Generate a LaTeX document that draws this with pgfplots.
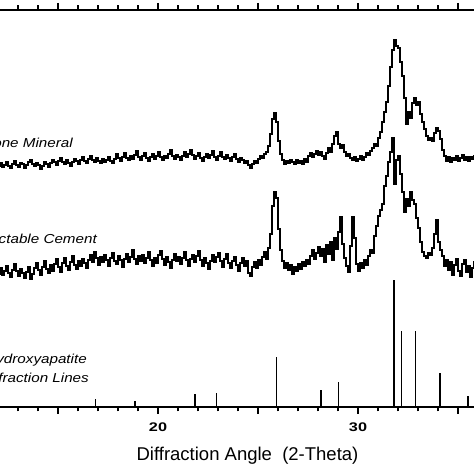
\documentclass[border=0pt]{standalone}
\usepackage{fontspec}
\setmainfont{Liberation Sans}
\usepackage{graphicx}
\usepackage{pgfplots}
\usepackage{pgfplotstable}
\pgfplotsset{compat=1.18}

\pgfplotstableread{
x y
12.0 308
12.1 311
12.2 307
12.3 309
12.4 312
12.5 308
12.6 306
12.7 310
12.8 313
12.9 309
13.0 307
13.1 311
13.2 310
13.3 306
13.4 309
13.5 312
13.6 314
13.7 310
13.8 308
13.9 311
14.0 309
14.1 305
14.2 308
14.3 312
14.4 310
14.5 307
14.6 311
14.7 314
14.8 312
14.9 309
15.0 313
15.1 316
15.2 312
15.3 310
15.4 314
15.5 311
15.6 308
15.7 312
15.8 315
15.9 313
16.0 310
16.1 314
16.2 317
16.3 313
16.4 311
16.5 315
16.6 318
16.7 314
16.8 312
16.9 316
17.0 313
17.1 311
17.2 315
17.3 312
17.4 314
17.5 317
17.6 313
17.7 311
17.8 315
17.9 320
18.0 316
18.1 313
18.2 317
18.3 321
18.4 316
18.5 314
18.6 318
18.7 315
18.8 319
18.9 323
19.0 317
19.1 314
19.2 318
19.3 321
19.4 316
19.5 313
19.6 317
19.7 320
19.8 315
19.9 318
20.0 322
20.1 317
20.2 314
20.3 318
20.4 316
20.5 320
20.6 324
20.7 318
20.8 315
20.9 319
21.0 317
21.1 314
21.2 318
21.3 322
21.4 317
21.5 320
21.6 324
21.7 319
21.8 315
21.9 318
22.0 321
22.1 316
22.2 313
22.3 317
22.4 320
22.5 316
22.6 319
22.7 323
22.8 317
22.9 314
23.0 318
23.1 322
23.2 317
23.3 315
23.4 319
23.5 316
23.6 313
23.7 317
23.8 320
23.9 315
24.0 312
24.1 316
24.2 314
24.3 311
24.4 313
24.5 309
24.6 306
24.7 310
24.8 313
24.9 311
25.0 315
25.1 318
25.2 316
25.3 320
25.4 322
25.5 328
25.6 340
25.7 355
25.8 361
25.9 352
26.0 333
26.1 320
26.2 314
26.3 310
26.4 313
26.5 311
26.6 314
26.7 312
26.8 310
26.9 314
27.0 311
27.1 313
27.2 310
27.3 315
27.4 312
27.5 318
27.6 321
27.7 317
27.8 320
27.9 323
28.0 319
28.1 322
28.2 318
28.3 315
28.4 321
28.5 326
28.6 322
28.7 330
28.8 338
28.9 342
29.0 330
29.1 326
29.2 329
29.3 322
29.4 318
29.5 320
29.6 316
29.7 314
29.8 317
29.9 313
30.0 315
30.1 318
30.2 314
30.3 317
30.4 321
30.5 319
30.6 323
30.7 326
30.8 330
30.9 328
31.0 336
31.1 342
31.2 352
31.3 362
31.4 372
31.5 388
31.6 407
31.7 424
31.8 434
31.9 428
32.0 426
32.1 412
32.2 398
32.3 376
32.4 350
32.5 362
32.6 356
32.7 371
32.8 376
32.9 369
33.0 372
33.1 360
33.2 352
33.3 345
33.4 338
33.5 334
33.6 336
33.7 333
33.8 341
33.9 346
34.0 343
34.1 335
34.2 324
34.3 318
34.4 313
34.5 317
34.6 312
34.7 316
34.8 314
34.9 318
35.0 313
35.1 316
35.2 319
35.3 314
35.4 317
35.5 313
35.6 317
35.7 315
35.8 318
35.9 314
36.0 316
}\bone

\pgfplotstableread{
x y
12.0 200
12.1 206
12.2 199
12.3 203
12.4 208
12.5 201
12.6 197
12.7 204
12.8 210
12.9 203
13.0 198
13.1 205
13.2 201
13.3 196
13.4 202
13.5 207
13.6 195
13.7 200
13.8 206
13.9 211
14.0 204
14.1 199
14.2 207
14.3 213
14.4 205
14.5 201
14.6 209
14.7 203
14.8 210
14.9 215
15.0 207
15.1 202
15.2 211
15.3 216
15.4 208
15.5 204
15.6 212
15.7 218
15.8 209
15.9 205
16.0 213
16.1 208
16.2 215
16.3 211
16.4 206
16.5 214
16.6 219
16.7 212
16.8 222
16.9 216
17.0 209
17.1 217
17.2 212
17.3 219
17.4 214
17.5 208
17.6 216
17.7 221
17.8 213
17.9 210
18.0 218
18.1 214
18.2 207
18.3 215
18.4 220
18.5 212
18.6 217
18.7 224
18.8 215
18.9 210
19.0 218
19.1 213
19.2 219
19.3 211
19.4 216
19.5 222
19.6 214
19.7 208
19.8 216
19.9 211
20.0 219
20.1 223
20.2 215
20.3 209
20.4 217
20.5 212
20.6 206
20.7 214
20.8 220
20.9 213
21.0 217
21.1 210
21.2 216
21.3 222
21.4 214
21.5 208
21.6 215
21.7 219
21.8 212
21.9 218
22.0 223
22.1 214
22.2 208
22.3 216
22.4 211
22.5 205
22.6 213
22.7 219
22.8 212
22.9 217
23.0 221
23.1 213
23.2 207
23.3 215
23.4 220
23.5 211
23.6 206
23.7 213
23.8 217
23.9 209
24.0 203
24.1 211
24.2 216
24.3 208
24.4 213
24.5 201
24.6 198
24.7 207
24.8 212
24.9 206
25.0 214
25.1 209
25.2 217
25.3 222
25.4 215
25.5 226
25.6 240
25.7 268
25.8 282
25.9 276
26.0 245
26.1 224
26.2 213
26.3 206
26.4 211
26.5 204
26.6 209
26.7 200
26.8 207
26.9 203
27.0 210
27.1 205
27.2 212
27.3 208
27.4 214
27.5 210
27.6 218
27.7 224
27.8 215
27.9 221
28.0 227
28.1 218
28.2 225
28.3 212
28.4 229
28.5 220
28.6 232
28.7 214
28.8 236
28.9 225
29.0 242
29.1 257
29.2 230
29.3 216
29.4 208
29.5 202
29.6 228
29.7 257
29.8 236
29.9 210
30.0 203
30.1 211
30.2 206
30.3 214
30.4 209
30.5 218
30.6 224
30.7 221
30.8 238
30.9 248
31.0 258
31.1 264
31.2 270
31.3 288
31.4 298
31.5 312
31.6 322
31.7 336
31.8 290
31.9 314
32.0 318
32.1 300
32.2 282
32.3 262
32.4 275
32.5 268
32.6 282
32.7 274
32.8 270
32.9 256
33.0 246
33.1 232
33.2 222
33.3 218
33.4 216
33.5 221
33.6 219
33.7 226
33.8 240
33.9 254
34.0 232
34.1 224
34.2 218
34.3 208
34.4 214
34.5 204
34.6 212
34.7 199
34.8 209
34.9 215
35.0 203
35.1 198
35.2 210
35.3 214
35.4 202
35.5 208
35.6 197
35.7 206
35.8 212
35.9 203
36.0 208
}\cement

\newcommand\ticklab[1]{\scalebox{1.3}[1]{\fontsize{12.5}{13}\selectfont\bfseries #1}}
\newcommand\serlab[1]{\scalebox{1.17}[1]{\fontsize{13}{14}\selectfont\itshape #1}}

\begin{document}
\begin{tikzpicture}
\path[use as bounding box] (0pt,0pt) rectangle (474pt,474pt);
\clip (0pt,0pt) rectangle (474pt,474pt);
\begin{axis}[
  at={(-42pt,67pt)}, anchor=south west,
  scale only axis, width=600pt, height=397pt,
  xmin=10, xmax=40, ymin=67, ymax=464,
  axis x line=box, axis y line=none,
  x axis line style={-, line width=1.8pt},
  xtick={10,15,...,40},
  xticklabels={,,{\ticklab{20}},,{\ticklab{30}},,},
  minor x tick num=4,
  tick align=outside,
  major tick length=7pt, minor tick length=4.5pt,
  every tick/.style={black, line width=1.3pt},
  ytick=\empty,
  xticklabel style={anchor=base, yshift=-17pt},
  xlabel={Diffraction Angle~~(2-Theta)},
  xlabel style={at={(axis description cs:0.4825,0)}, anchor=base, yshift=-53pt, font=\fontsize{18.5}{20}\selectfont},
  clip=true,
]
\addplot[const plot, black, line width=1.5pt] table {\bone};
\addplot[const plot, black, line width=1.5pt] table {\cement};
\addplot[ycomb, black, line width=1.6pt] coordinates {
(16.88,75) (18.85,73) (21.85,80) (22.93,81) (25.93,117) (28.15,84)
(29.02,92) (31.8,194) (32.18,143) (32.88,143) (34.1,101) (35.5,78)
};
\node[anchor=base east, inner sep=0pt] at (axis cs:15.75,326) {\serlab{Bone Mineral}};
\node[anchor=base east, inner sep=0pt] at (axis cs:16.95,230) {\serlab{Injectable Cement}};
\node[anchor=base east, inner sep=0pt] at (axis cs:16.45,110) {\serlab{Hydroxyapatite}};
\node[anchor=base east, inner sep=0pt] at (axis cs:16.55,91) {\serlab{Diffraction Lines}};
\end{axis}
\end{tikzpicture}
\end{document}
